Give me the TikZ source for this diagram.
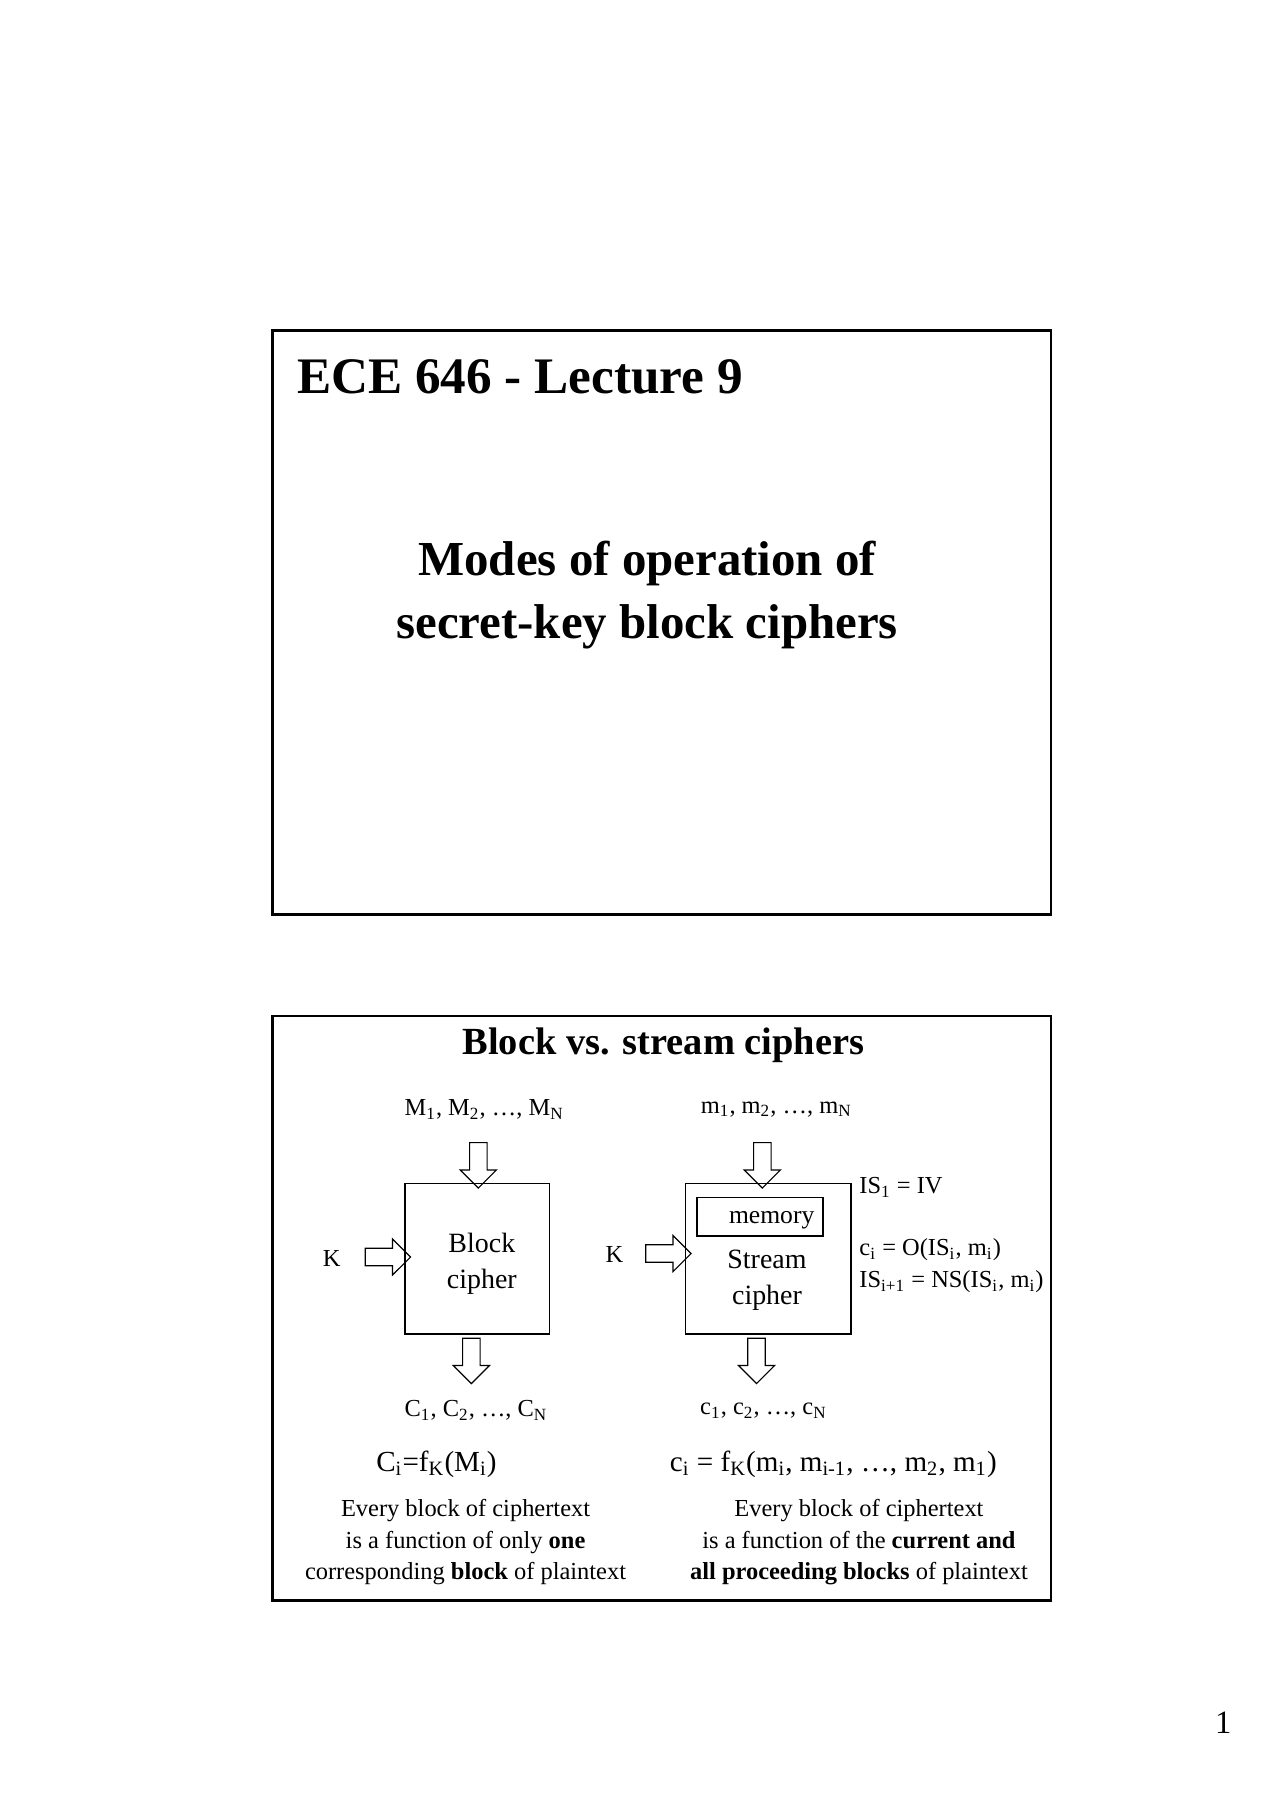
\documentclass[tikz,border=0pt]{standalone}
\usepackage{fontspec}
\setmainfont{Liberation Serif}
\usetikzlibrary{shapes.arrows}
\newcommand{\sub}[1]{\textsubscript{#1}}
\tikzset{
  frame/.style={draw, line width=1.2pt},
  cipherbox/.style={draw, line width=0.6pt},
  hollow/.style={draw, line width=0.5pt, single arrow, single arrow head extend=4pt,
    inner sep=3.5pt, minimum height=19.5pt, single arrow tip angle=90},
  lbl/.style={inner sep=0pt, font=\fontsize{10.5}{12}\selectfont},
  body/.style={inner sep=0pt, align=center, font=\fontsize{10.5}{13.5}\selectfont}
}
\begin{document}
\begin{tikzpicture}[x=0.5pt,y=-0.5pt]
\useasboundingbox (0,0) rectangle (1100,1556);
% first slide
\draw [frame] (234,284) rectangle (903,786);
\node (lecture) [anchor=base west, inner sep=0pt, font=\fontsize{22}{26}\bfseries] at (255,338) {ECE 646 - Lecture 9};
\node (topic) [align=center, inner sep=0pt, font=\fontsize{21}{27}\bfseries] at (556,511) {Modes of operation of\\secret-key block ciphers};
% second slide
\draw [frame] (234,873) rectangle (903,1375);
\node (title) [inner sep=0pt, font=\fontsize{16.5}{20}\bfseries] at (570,898) {Block vs. stream ciphers};
\node (block) [cipherbox, minimum width=62pt, minimum height=64.5pt] at (410,1081.5) {};
\node [align=center, font=\fontsize{12}{15.5}\selectfont] at (414,1086) {Block\\cipher};
\node (stream) [cipherbox, minimum width=71pt, minimum height=64.5pt] at (660,1081.5) {};
\node (memory) [cipherbox, minimum width=54pt, minimum height=16.5pt] at (653,1045.5) {};
\node [lbl, font=\fontsize{11}{13}\selectfont] at (663,1048) {memory};
\node [align=center, font=\fontsize{12}{15.5}\selectfont] at (659,1100) {Stream\\cipher};
% inputs and outputs
\node (Min) [lbl] at (416,953) {M\sub{1}, M\sub{2}, \ldots, M\sub{N}};
\node (min) [lbl] at (667,953) {m\sub{1}, m\sub{2}, \ldots, m\sub{N}};
\node (Cout) [lbl] at (409,1212) {C\sub{1}, C\sub{2}, \ldots, C\sub{N}};
\node (cout) [lbl] at (656,1212) {c\sub{1}, c\sub{2}, \ldots, c\sub{N}};
\node (Kb) [lbl] at (285,1081) {K};
\node (Ks) [lbl] at (528,1078) {K};
\node [hollow, shape border rotate=270] at (411,997.5) {};
\node [hollow, shape border rotate=270] at (655,997.5) {};
\node [hollow, shape border rotate=270] at (405,1165.5) {};
\node [hollow, shape border rotate=270] at (650,1165.5) {};
\node [hollow] at (329.5,1080) {};
\node [hollow] at (570.5,1077) {};
% state equations
\node (iv) [lbl, anchor=west] at (738,1020) {IS\sub{1} = IV};
\node (out) [lbl, anchor=west] at (738,1074) {c\sub{i} = O(IS\sub{i}, m\sub{i})};
\node (next) [lbl, anchor=west] at (738,1101) {IS\sub{i+1} = NS(IS\sub{i}, m\sub{i})};
% formulas
\node (fb) [inner sep=0pt, font=\fontsize{12.5}{15}\selectfont] at (375,1258) {C\sub{i}=f\sub{K}(M\sub{i})};
\node (fs) [inner sep=0pt, font=\fontsize{12.5}{15}\selectfont] at (716,1258) {c\sub{i} = f\sub{K}(m\sub{i}, m\sub{i-1}, \ldots, m\sub{2}, m\sub{1})};
\node (tb) [body] at (400,1325) {Every block of ciphertext\\is a function of only \textbf{one}\\corresponding \textbf{block} of plaintext};
\node (ts) [body] at (738,1325) {Every block of ciphertext\\is a function of the \textbf{current and}\\\textbf{all proceeding blocks} of plaintext};
\node (page) [inner sep=0pt, font=\fontsize{14}{16}\selectfont] at (1051,1480) {1};
\end{tikzpicture}
\end{document}
